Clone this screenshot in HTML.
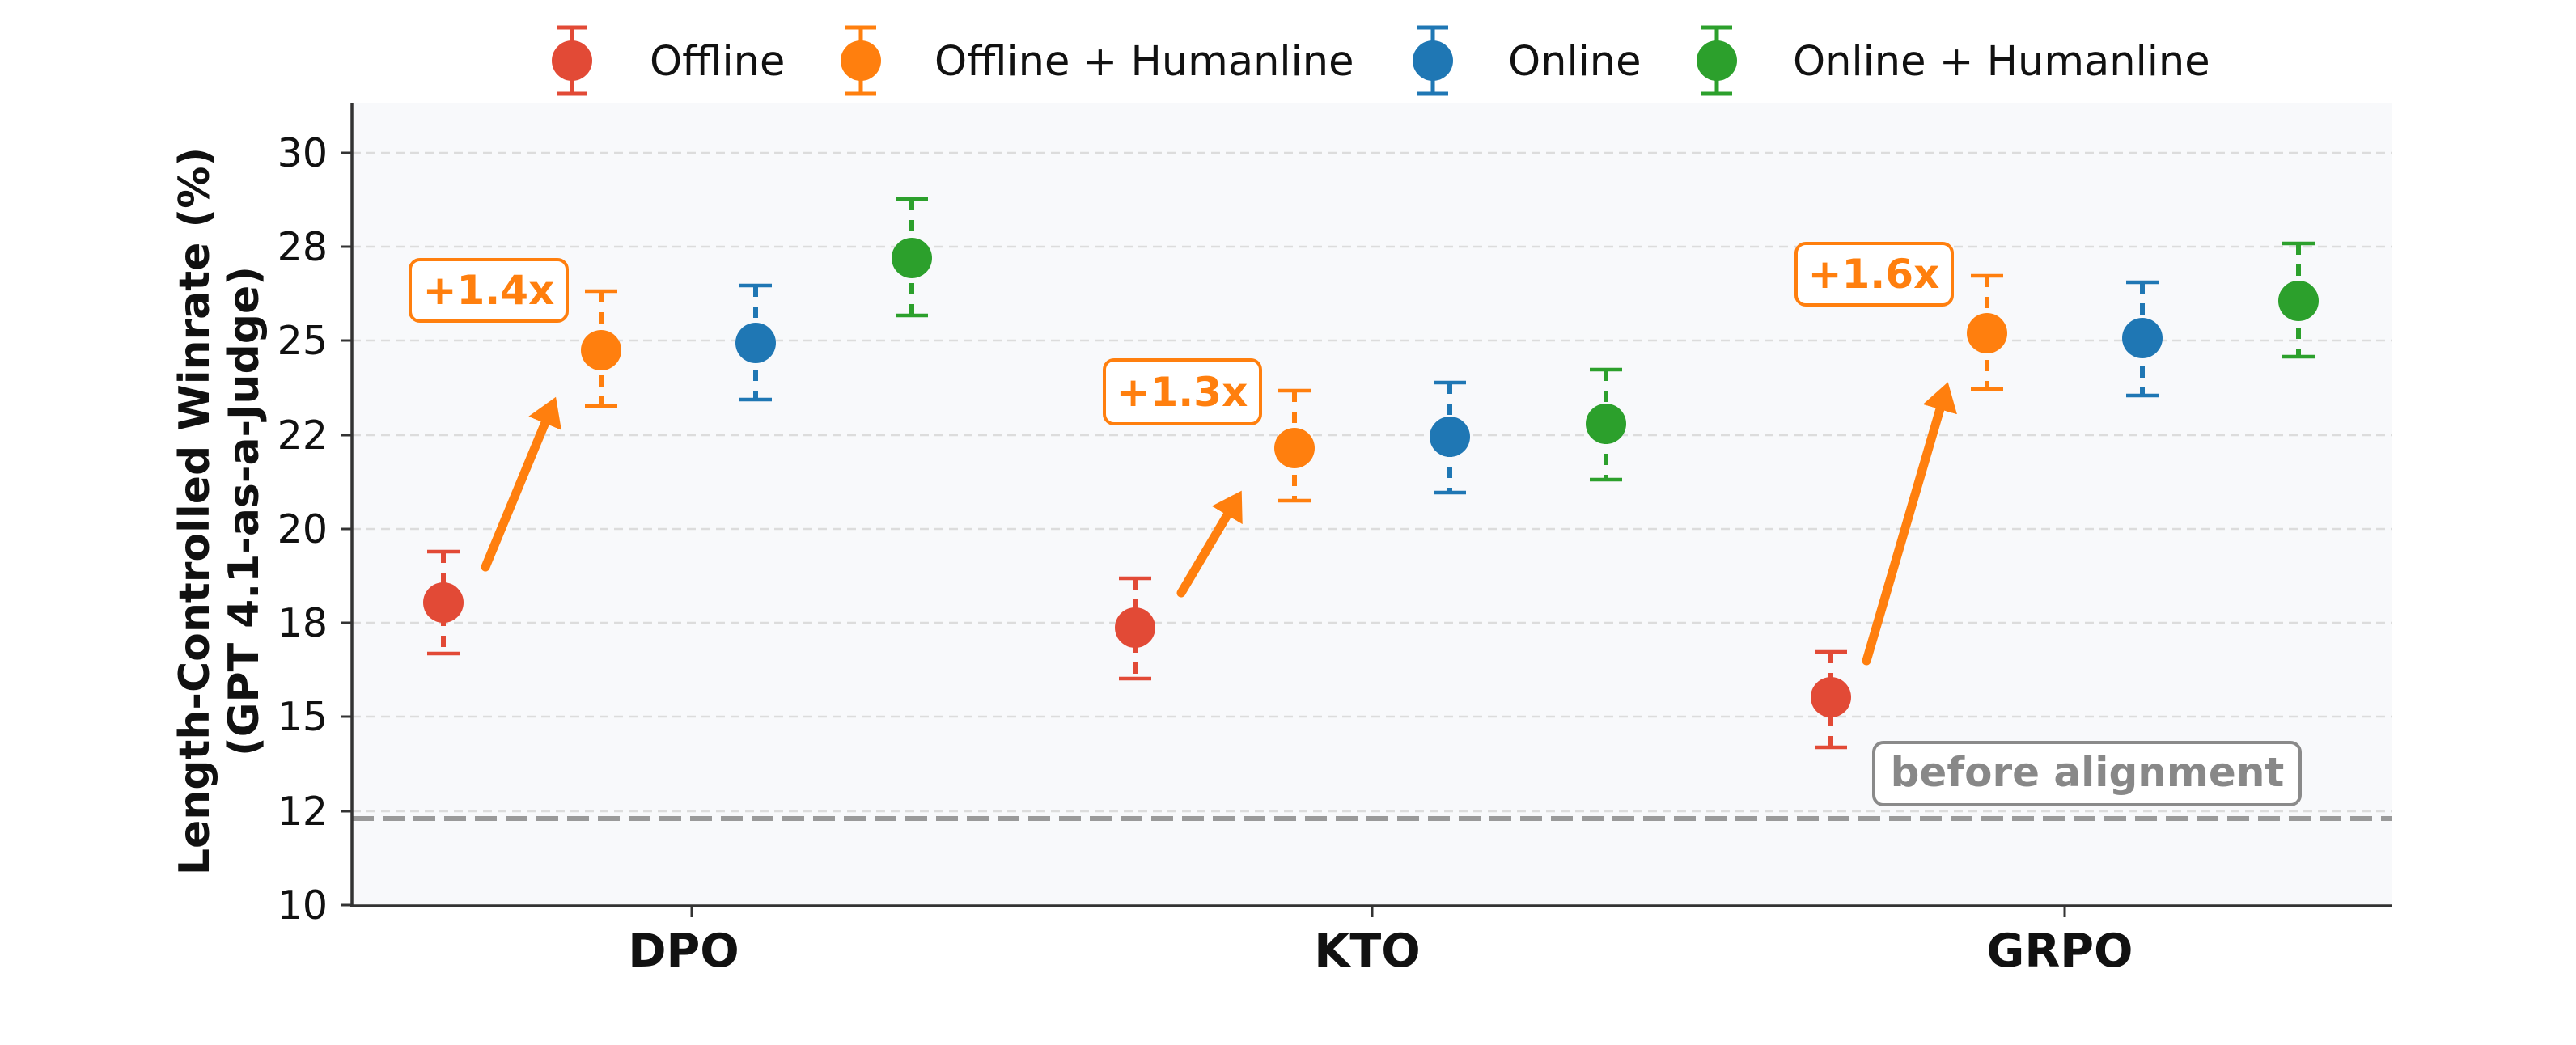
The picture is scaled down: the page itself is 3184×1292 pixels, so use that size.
<!DOCTYPE html>
<html><head><meta charset="utf-8"><style>
html,body{margin:0;padding:0;background:#fff;}
svg{display:block;}
text{font-family:"DejaVu Sans","Liberation Sans",sans-serif;}
</style></head><body>
<svg width="3184" height="1292" viewBox="0 0 3184 1292" xmlns="http://www.w3.org/2000/svg">
<rect x="0" y="0" width="3184" height="1292" fill="#fff"/>
<rect x="435" y="127" width="2521" height="993" fill="#f8f9fb"/>
<g stroke="#dcdcdc" stroke-width="2.5" stroke-dasharray="11 7">
<line x1="435" x2="2956" y1="189" y2="189"/>
<line x1="435" x2="2956" y1="305" y2="305"/>
<line x1="435" x2="2956" y1="421" y2="421"/>
<line x1="435" x2="2956" y1="538" y2="538"/>
<line x1="435" x2="2956" y1="654" y2="654"/>
<line x1="435" x2="2956" y1="770" y2="770"/>
<line x1="435" x2="2956" y1="886" y2="886"/>
<line x1="435" x2="2956" y1="1003" y2="1003"/>
</g>
<line x1="435" x2="2956" y1="1012" y2="1012" stroke="#9a9a9a" stroke-width="6" stroke-dasharray="27 11"/>
<line x1="435" y1="127" x2="435" y2="1121" stroke="#333" stroke-width="3.5"/>
<line x1="433" y1="1120" x2="2956" y2="1120" stroke="#333" stroke-width="3.5"/>
<g stroke="#333" stroke-width="3">
<line x1="422" x2="435" y1="189" y2="189"/><line x1="422" x2="435" y1="305" y2="305"/>
<line x1="422" x2="435" y1="421" y2="421"/><line x1="422" x2="435" y1="538" y2="538"/>
<line x1="422" x2="435" y1="654" y2="654"/><line x1="422" x2="435" y1="770" y2="770"/>
<line x1="422" x2="435" y1="886" y2="886"/><line x1="422" x2="435" y1="1003" y2="1003"/>
<line x1="422" x2="435" y1="1119" y2="1119"/>
<line x1="855" x2="855" y1="1120" y2="1134"/><line x1="1696" x2="1696" y1="1120" y2="1134"/><line x1="2552" x2="2552" y1="1120" y2="1134"/>
</g>
<g font-size="49" fill="#111" text-anchor="end">
<text x="405" y="206">30</text><text x="405" y="322">28</text><text x="405" y="438">25</text>
<text x="405" y="555">22</text><text x="405" y="671">20</text><text x="405" y="787">18</text>
<text x="405" y="903">15</text><text x="405" y="1020">12</text><text x="405" y="1136">10</text>
</g>
<g font-size="57" font-weight="bold" fill="#111" text-anchor="middle">
<text x="845" y="1195">DPO</text><text x="1690" y="1195">KTO</text><text x="2546" y="1195">GRPO</text>
</g>
<g font-size="52" font-weight="bold" fill="#111" text-anchor="middle">
<text transform="translate(258,632) rotate(-90)">Length-Controlled Winrate (%)</text>
<text transform="translate(319,632) rotate(-90)">(GPT 4.1-as-a-Judge)</text>
</g>
<g stroke-width="6" stroke-dasharray="14 12">
<line x1="548" x2="548" y1="682" y2="808" stroke="#e24a36"/>
<line x1="743" x2="743" y1="360" y2="502" stroke="#ff7f0e"/>
<line x1="934" x2="934" y1="353" y2="494" stroke="#1f77b4"/>
<line x1="1127" x2="1127" y1="246" y2="390" stroke="#2ca02c"/>
<line x1="1403" x2="1403" y1="715" y2="839" stroke="#e24a36"/>
<line x1="1600" x2="1600" y1="483" y2="619" stroke="#ff7f0e"/>
<line x1="1792" x2="1792" y1="473" y2="609" stroke="#1f77b4"/>
<line x1="1985" x2="1985" y1="457" y2="593" stroke="#2ca02c"/>
<line x1="2263" x2="2263" y1="806" y2="924" stroke="#e24a36"/>
<line x1="2456" x2="2456" y1="341" y2="481" stroke="#ff7f0e"/>
<line x1="2648" x2="2648" y1="349" y2="489" stroke="#1f77b4"/>
<line x1="2841" x2="2841" y1="301" y2="441" stroke="#2ca02c"/>
</g>
<g stroke-width="4.5">
<path d="M528 682h40M528 808h40" stroke="#e24a36"/>
<path d="M723 360h40M723 502h40" stroke="#ff7f0e"/>
<path d="M914 353h40M914 494h40" stroke="#1f77b4"/>
<path d="M1107 246h40M1107 390h40" stroke="#2ca02c"/>
<path d="M1383 715h40M1383 839h40" stroke="#e24a36"/>
<path d="M1580 483h40M1580 619h40" stroke="#ff7f0e"/>
<path d="M1772 473h40M1772 609h40" stroke="#1f77b4"/>
<path d="M1965 457h40M1965 593h40" stroke="#2ca02c"/>
<path d="M2243 806h40M2243 924h40" stroke="#e24a36"/>
<path d="M2436 341h40M2436 481h40" stroke="#ff7f0e"/>
<path d="M2628 349h40M2628 489h40" stroke="#1f77b4"/>
<path d="M2821 301h40M2821 441h40" stroke="#2ca02c"/>
</g>
<circle cx="548" cy="745" r="25" fill="#e24a36"/>
<circle cx="743" cy="433" r="25" fill="#ff7f0e"/>
<circle cx="934" cy="424" r="25" fill="#1f77b4"/>
<circle cx="1127" cy="319" r="25" fill="#2ca02c"/>
<circle cx="1403" cy="776" r="25" fill="#e24a36"/>
<circle cx="1600" cy="554" r="25" fill="#ff7f0e"/>
<circle cx="1792" cy="540" r="25" fill="#1f77b4"/>
<circle cx="1985" cy="524" r="25" fill="#2ca02c"/>
<circle cx="2263" cy="862" r="25" fill="#e24a36"/>
<circle cx="2456" cy="412" r="25" fill="#ff7f0e"/>
<circle cx="2648" cy="418" r="25" fill="#1f77b4"/>
<circle cx="2841" cy="372" r="25" fill="#2ca02c"/>
<defs><marker id="ah" markerWidth="4" markerHeight="4" refX="2" refY="2" orient="auto" markerUnits="strokeWidth"><path d="M0,0 L3.2,2 L0,4 Z" fill="#ff7f0e"/></marker></defs>
<g stroke="#ff7f0e" stroke-width="11" stroke-linecap="round" fill="none">
<line x1="600" y1="701" x2="682" y2="503" marker-end="url(#ah)"/>
<line x1="1460" y1="733" x2="1528" y2="618" marker-end="url(#ah)"/>
<line x1="2307" y1="817" x2="2404" y2="485" marker-end="url(#ah)"/>
</g>
<g fill="#fff" stroke="#ff7f0e" stroke-width="4">
<rect x="507" y="321" width="194" height="76" rx="12"/>
<rect x="1365" y="445" width="193" height="79" rx="12"/>
<rect x="2220" y="301" width="193" height="76" rx="12"/>
</g>
<g font-size="50" font-weight="bold" fill="#ff7f0e" text-anchor="middle">
<text x="604" y="376">+1.4x</text>
<text x="1461" y="502">+1.3x</text>
<text x="2316" y="356">+1.6x</text>
</g>
<rect x="2316" y="918" width="527" height="77" rx="12" fill="#fff" stroke="#8a8a8a" stroke-width="4"/>
<text x="2580" y="972" font-size="50" font-weight="bold" fill="#888" text-anchor="middle">before alignment</text>
<g stroke-width="5">
<path d="M707 33v84M688 34h38M688 116h38" stroke="#e24a36"/>
<path d="M1064 33v84M1045 34h38M1045 116h38" stroke="#ff7f0e"/>
<path d="M1771 33v84M1752 34h38M1752 116h38" stroke="#1f77b4"/>
<path d="M2122 33v84M2103 34h38M2103 116h38" stroke="#2ca02c"/>
</g>
<circle cx="707" cy="75" r="25" fill="#e24a36"/>
<circle cx="1064" cy="75" r="25" fill="#ff7f0e"/>
<circle cx="1771" cy="75" r="25" fill="#1f77b4"/>
<circle cx="2122" cy="75" r="25" fill="#2ca02c"/>
<g font-size="51" fill="#111">
<text x="803" y="93">Offline</text>
<text x="1155" y="93">Offline + Humanline</text>
<text x="1864" y="93">Online</text>
<text x="2216" y="93">Online + Humanline</text>
</g>
</svg>
</body></html>
